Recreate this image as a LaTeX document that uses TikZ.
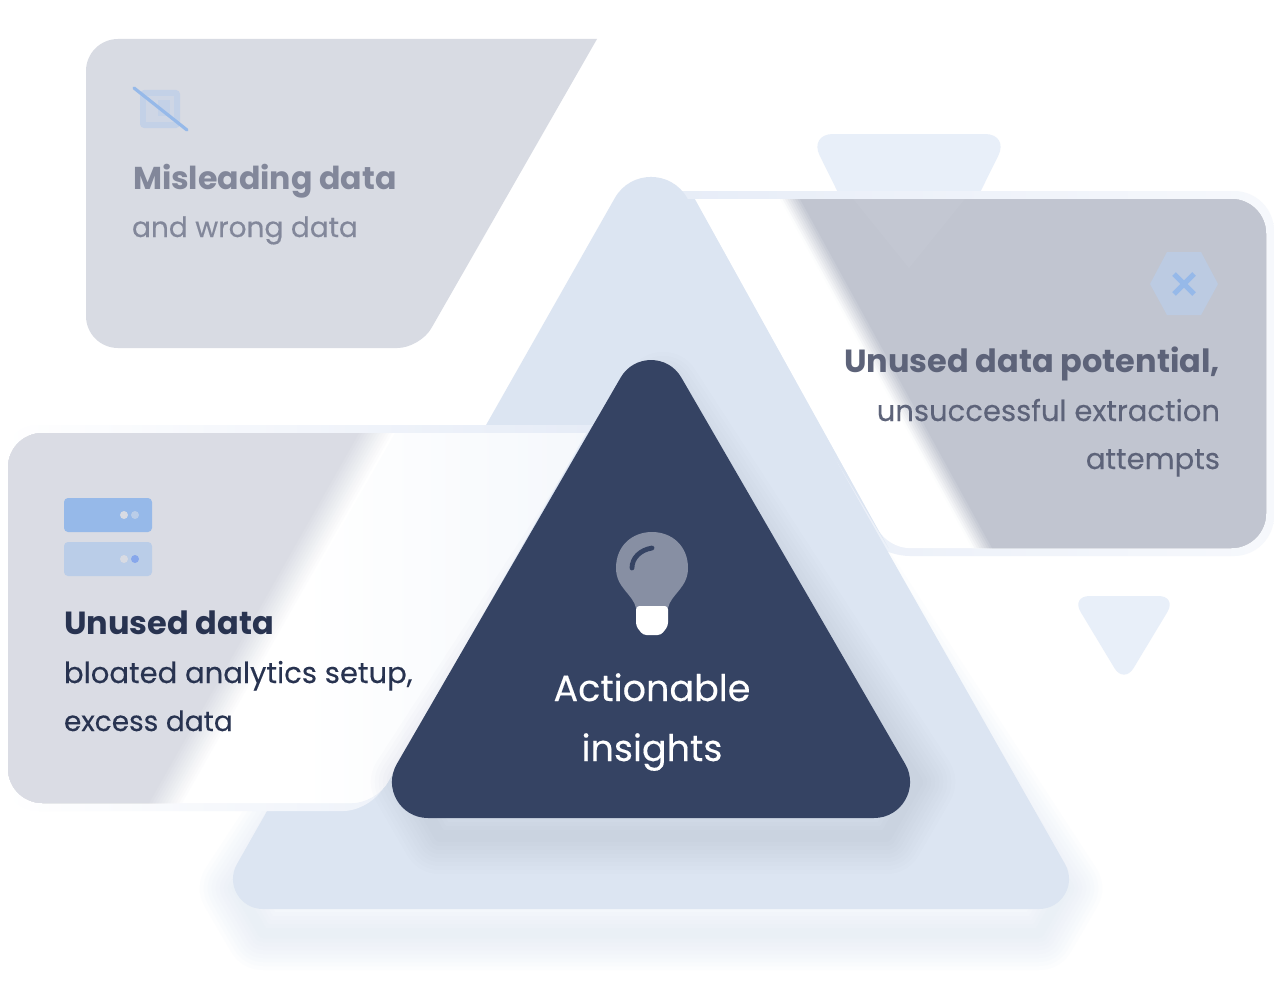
\documentclass[tikz,border=0pt]{standalone}
\usepackage{fontspec}
\setmainfont{Poppins}
\newfontfamily\medfamily{Poppins}[FakeBold=0.25]
\usetikzlibrary{positioning}
\definecolor{skytri}{HTML}{DCE5F2}
\definecolor{paletri}{HTML}{E8EFF9}
\definecolor{navytri}{HTML}{354363}
\definecolor{cardgrey}{HTML}{D8DBE3}
\definecolor{carddark}{HTML}{C1C5D0}
\definecolor{ghostgrey}{HTML}{C7CBD5}
\definecolor{bandblue}{HTML}{E6ECF7}
\definecolor{frostblue}{HTML}{F5F8FC}
\definecolor{iconblue}{HTML}{96B9E9}
\definecolor{iconpale}{HTML}{BACDE8}
\definecolor{bulbgrey}{HTML}{878FA3}
\definecolor{fadedtext}{HTML}{82879A}
\definecolor{midtext}{HTML}{5D6379}
\definecolor{darktext}{HTML}{283350}
\tikzset{
  every node/.style={inner sep=0pt, outer sep=0pt},
  headtext/.style={font=\fontsize{24}{28}\selectfont\bfseries},
  subtext/.style={font=\medfamily\fontsize{21.8}{28}\selectfont},
  bigtext/.style={font=\medfamily\fontsize{27.4}{32}\selectfont, text=white, anchor=base},
  softedge/.style={line join=round}
}
\newcommand{\skypath}{(263, 909) .. controls (240, 909) and (225.6, 884.2) .. (236.9, 864.2) -- (614.8, 198.1) .. controls (630.7, 169.9) and (671.3, 169.9) .. (687.2, 198.1) -- (1065.1, 864.2) .. controls (1076.4, 884.2) and (1062, 909) .. (1039, 909) -- cycle}
\newcommand{\navypath}{(428, 818) .. controls (400.3, 818) and (382.9, 788) .. (396.8, 764) -- (620.7, 377.5) .. controls (634.2, 354.2) and (667.8, 354.2) .. (681.3, 377.5) -- (905.2, 764) .. controls (919.1, 788) and (901.7, 818) .. (874, 818) -- cycle}
\begin{document}
\begin{tikzpicture}[x=0.75pt, y=-0.75pt]
    \useasboundingbox[fill=white] (0, 0) rectangle (1274, 999);

    % triangles at the back
    \fill[paletri, rounded corners=18pt] (809, 134) -- (1009, 134) -- (909, 336) -- cycle;
    \fill[paletri, rounded corners=14pt] (1071, 596) -- (1177, 596) -- (1124, 684) -- cycle;
    \foreach \w in {74, 66, 58, 50, 42, 34, 26, 18, 10}
      \draw[skytri, opacity=0.07, line width=\w*0.75pt, softedge, shift={(0, 24)}] (263, 909) -- (236.9, 864.2) -- (651, 230) -- (1065.1, 864.2) -- (1039, 909) -- cycle;

    % right card, band first
    \shade[left color=bandblue, right color=bandblue!35!white, rounded corners=30pt] (640, 191) -- (1274, 191) -- (1274, 556) -- (870, 556) -- cycle;
    \fill[skytri] \skypath;
    \fill[skytri] (680, 199) -- (695, 199) -- (888.5, 548) -- cycle;
    \begin{scope}
      \clip (695, 199) [rounded corners=26pt] -- (1266, 199) -- (1266, 548) [rounded corners=15pt] -- (888.5, 548) [sharp corners] -- cycle;
      \fill[white] (690, 190) rectangle (1274, 560);
      \foreach \i in {0, ..., 8}
        \fill[carddark!\the\numexpr\i*12+4\relax!white] ({780+\i*2.5}, 199) -- (1274, 199) -- (1274, 548) -- ({972+\i*2.5}, 548) -- cycle;
      \foreach \w in {36, 28, 20, 12, 4}
        \draw[ghostgrey, opacity=0.14, line width=\w*0.75pt, softedge] (846, 190) -- (972, 190) -- (909, 268) -- cycle;
      \fill[ghostgrey, opacity=0.45] (846, 190) -- (972, 190) -- (909, 268) -- cycle;
    \end{scope}
    \fill[iconpale!75!carddark] (1150, 284) -- (1167, 252) -- (1201, 252) -- (1218, 284) -- (1201, 315) -- (1167, 315) -- cycle;
    \draw[iconblue, line width=3.8pt] (1174, 274) -- (1194, 294) (1194, 274) -- (1174, 294);

    % top card
    \fill[cardgrey] (597, 39) [rounded corners=17pt] -- (420, 348) [rounded corners=24pt] -- (86, 348) -- (86, 39) [sharp corners] -- cycle;
    \fill[iconpale!70!cardgrey, rounded corners=3pt] (140, 90) rectangle (180, 128);
    \fill[iconpale!35!cardgrey] (146, 96) rectangle (174, 122);
    \fill[iconpale!70!cardgrey] (158, 100) rectangle (170, 116);
    \draw[iconblue, line width=2.4pt, line cap=round] (134, 88) -- (187, 130);

    % left card
    \shade[left color=white, right color=bandblue] (592, 425) [rounded corners=20pt] -- (370, 811) [rounded corners=28pt] -- (2, 811) -- (2, 425) [sharp corners] -- cycle;
    \begin{scope}
      \clip (586, 433) [rounded corners=18pt] -- (376, 803) [rounded corners=26pt] -- (8, 803) -- (8, 433) [sharp corners] -- cycle;
      \fill[white] (0, 425) rectangle (400, 811);
      \shade[left color=white, right color=frostblue] (300, 425) rectangle (590, 811);
      \foreach \i in {0, ..., 12}
        \fill[cardgrey!\the\numexpr\i*8\relax!white] (0, 433) -- ({395-\i*3}, 433) -- ({185-\i*3}, 803) -- (0, 803) -- cycle;
    \end{scope}
    \fill[iconblue, rounded corners=3pt] (64, 498) rectangle (152, 532);
    \fill[iconpale, rounded corners=3pt] (64, 542) rectangle (152, 576);
    \fill[cardgrey] (124, 515) circle (4);
    \fill[iconpale] (135, 515) circle (4);
    \fill[cardgrey] (124, 559) circle (4);
    \fill[iconblue!90!blue] (135, 559) circle (4);

    % dark triangle and bulb
    \foreach \w in {76, 68, 60, 52, 44, 36, 28, 20, 12}
      \draw[navytri, opacity=0.012, line width=\w*0.75pt, softedge, shift={(12, 18)}] (428, 818) -- (396.8, 764) -- (651, 372) -- (905.2, 764) -- (874, 818) -- cycle;
    \fill[navytri] \navypath;
    \fill[bulbgrey] (636, 608) .. controls (633, 594) and (616, 588) .. (616, 568) .. controls (616, 546) and (632, 532) .. (652, 532) .. controls (672, 532) and (688, 546) .. (688, 568) .. controls (688, 588) and (671, 594) .. (668, 608) -- cycle;
    \fill[white, rounded corners=2.5pt] (636, 606) -- (668, 606) -- (668, 626) -- (661, 635) -- (643, 635) -- (636, 626) -- cycle;
    \draw[navytri, line width=3.6pt, line cap=round] (632, 568) .. controls (632, 558) and (640, 550) .. (652, 548);

    % labels
    \node[headtext, text=fadedtext, anchor=base west, font=\fontsize{23.7}{28}\selectfont\bfseries] (misleading) at (133, 189) {Misleading data};
    \node[subtext, text=fadedtext, anchor=base west, font=\medfamily\fontsize{21}{28}\selectfont] (wrongdata) at (132, 237) {and wrong data};
    \node[headtext, text=midtext, anchor=base east] (potential) at (1220, 372) {Unused data potential,};
    \node[subtext, text=midtext, anchor=base east] (extraction) at (1220, 421) {unsuccessful extraction};
    \node[subtext, text=midtext, anchor=base east] (attempts) at (1220, 469) {attempts};
    \node[headtext, text=darktext, anchor=base west] (unused) at (64, 634) {Unused data};
    \node[subtext, text=darktext, anchor=base west] (bloated) at (64, 683) {bloated analytics setup,};
    \node[subtext, text=darktext, anchor=base west, font=\medfamily\fontsize{21}{28}\selectfont] (excess) at (64, 731) {excess data};
    \node[bigtext] (actionable) at (652, 701) {Actionable};
    \node[bigtext] (insights) at (652, 761) {insights};
  \end{tikzpicture}
\end{document}
